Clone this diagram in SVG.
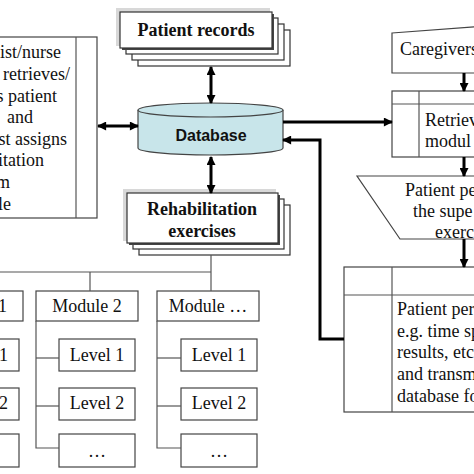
<svg xmlns="http://www.w3.org/2000/svg" width="474" height="474" viewBox="0 0 474 474">
<style>
.bx{fill:#fff;stroke:#444;stroke-width:1.2}
.tl{fill:none;stroke:#555;stroke-width:1.2}
.t{font-family:"Liberation Serif","Times New Roman",serif;font-size:18px;fill:#111}
.tb{font-family:"Liberation Serif","Times New Roman",serif;font-size:18px;font-weight:bold;fill:#111}
.thick{fill:none;stroke:#000;stroke-width:3}
.pg{fill:#fff;stroke:#333;stroke-width:1.2}
.sh{fill:#d8d8d8}
</style>
<defs>
<marker id="ah" viewBox="0 0 10 10" refX="9" refY="5" markerWidth="10" markerHeight="9" markerUnits="userSpaceOnUse" orient="auto-start-reverse">
<path d="M0,0 L10,5 L0,10 Z" fill="#000"/>
</marker>
</defs>
<rect width="474" height="474" fill="#fff"/>

<g id="left-box">
<rect class="bx" x="-10" y="37" width="107" height="181"/>
<line class="tl" x1="76" y1="37" x2="76" y2="218"/>
<text class="t" text-anchor="end" x="61" y="58">ist/nurse</text>
<text class="t" text-anchor="end" x="70" y="80">retrieves/</text>
<text class="t" text-anchor="end" x="57" y="101.5">s patient</text>
<text class="t" text-anchor="end" x="33" y="123">and</text>
<text class="t" text-anchor="end" x="67" y="144.5">st assigns</text>
<text class="t" text-anchor="end" x="44" y="166">itation</text>
<text class="t" text-anchor="end" x="10" y="188">m</text>
<text class="t" text-anchor="end" x="11" y="210">le</text>
</g>

<g id="patient-records">
<rect class="pg" x="138" y="30" width="152" height="36"/>
<rect class="pg" x="132" y="24" width="152" height="36"/>
<rect class="pg" x="126" y="18" width="152" height="36"/>
<rect class="sh" x="116" y="8" width="154" height="38"/>
<rect fill="#444" x="122" y="14" width="152" height="36"/>
<rect class="pg" x="120" y="12" width="152" height="36"/>
<text class="tb" text-anchor="middle" x="196" y="36">Patient records</text>
</g>

<g id="database">
<path d="M138,110 L138,148 A72.5,7 0 0 0 283,148 L283,110" fill="#c8e5ea" stroke="#444" stroke-width="1.2"/>
<ellipse cx="210.5" cy="110" rx="72.5" ry="7" fill="#c8e5ea" stroke="#444" stroke-width="1.2"/>
<text x="211" y="141" text-anchor="middle" font-family="Liberation Sans,Arial,sans-serif" font-size="16" font-weight="bold" fill="#111">Database</text>
</g>

<g id="rehab-exercises">
<rect class="pg" x="139" y="205" width="151" height="50"/>
<rect class="pg" x="133" y="199" width="151" height="50"/>
<rect class="sh" x="123" y="189" width="153" height="52"/>
<rect fill="#444" x="129" y="195" width="151" height="50"/>
<rect class="pg" x="127" y="193" width="151" height="50"/>
<text class="tb" text-anchor="middle" x="202" y="215">Rehabilitation</text>
<text class="tb" text-anchor="middle" x="202" y="237">exercises</text>
</g>

<g id="caregivers">
<polygon class="bx" points="392,33 480,26.5 480,73 392,73"/>
<text class="t" x="400" y="55">Caregivers</text>
</g>

<g id="retrieve-module">
<rect class="bx" x="392" y="91" width="200" height="66"/>
<line class="tl" x1="392" y1="104" x2="480" y2="104"/>
<line class="tl" x1="419" y1="91" x2="419" y2="157"/>
<text class="t" x="425" y="126">Retriev</text>
<text class="t" x="425" y="147">modul</text>
</g>

<g id="patient-performs">
<polygon class="bx" points="357,176 580,176 537,239 400,239"/>
<text class="t" x="405" y="195.5">Patient pe</text>
<text class="t" x="413" y="216.5">the supe</text>
<text class="t" x="435" y="237.5">exerc</text>
</g>

<g id="patient-performance">
<rect class="bx" x="344" y="267" width="200" height="145"/>
<line class="tl" x1="344" y1="295" x2="480" y2="295"/>
<line class="tl" x1="392" y1="267" x2="392" y2="412"/>
<text class="t" x="397" y="315">Patient per</text>
<text class="t" x="397" y="337">e.g. time sp</text>
<text class="t" x="397" y="358">results, etc</text>
<text class="t" x="397" y="380">and transm</text>
<text class="t" x="397" y="402">database fo</text>
</g>

<g id="module-1">
<rect class="bx" x="-79" y="291" width="102" height="30"/>
<text class="t" text-anchor="end" x="7" y="312">1</text>
<rect class="bx" x="-57" y="339" width="76" height="32"/>
<text class="t" text-anchor="end" x="8" y="361">1</text>
<rect class="bx" x="-57" y="388" width="76" height="32"/>
<text class="t" text-anchor="end" x="8" y="409">2</text>
<rect class="bx" x="-57" y="434" width="76" height="33"/>
</g>

<g id="module-2">
<rect class="bx" x="36" y="291" width="102" height="30"/>
<text class="t" text-anchor="middle" x="87" y="312">Module 2</text>
<rect class="bx" x="59" y="339" width="76" height="32"/>
<text class="t" text-anchor="middle" x="97" y="361">Level 1</text>
<rect class="bx" x="59" y="388" width="76" height="32"/>
<text class="t" text-anchor="middle" x="97" y="409">Level 2</text>
<rect class="bx" x="59" y="434" width="76" height="33"/>
<text class="t" text-anchor="middle" x="97" y="457" fill="#555">…</text>
</g>

<g id="module-n">
<rect class="bx" x="157" y="291" width="102" height="30"/>
<text class="t" text-anchor="middle" x="208" y="312">Module …</text>
<rect class="bx" x="181" y="339" width="76" height="32"/>
<text class="t" text-anchor="middle" x="219" y="361">Level 1</text>
<rect class="bx" x="181" y="388" width="76" height="32"/>
<text class="t" text-anchor="middle" x="219" y="409">Level 2</text>
<rect class="bx" x="181" y="434" width="76" height="33"/>
<text class="t" text-anchor="middle" x="219" y="457" fill="#555">…</text>
</g>

<g id="connectors">
<polyline class="tl" points="0,272 211,272"/>
<line class="tl" x1="211" y1="255" x2="211" y2="291"/>
<line class="tl" x1="90" y1="272" x2="90" y2="291"/>
<polyline class="tl" points="36,321 36,448 59,448"/>
<line class="tl" x1="36" y1="358" x2="59" y2="358"/>
<line class="tl" x1="36" y1="406" x2="59" y2="406"/>
<polyline class="tl" points="157,321 157,448 181,448"/>
<line class="tl" x1="157" y1="358" x2="181" y2="358"/>
<line class="tl" x1="157" y1="406" x2="181" y2="406"/>

<line class="thick" x1="211" y1="67" x2="211" y2="103" marker-start="url(#ah)" marker-end="url(#ah)"/>
<line class="thick" x1="211" y1="157" x2="211" y2="193" marker-start="url(#ah)" marker-end="url(#ah)"/>
<line class="thick" x1="98" y1="126" x2="138" y2="126" marker-start="url(#ah)" marker-end="url(#ah)"/>
<line class="thick" x1="283" y1="122" x2="392" y2="122" marker-end="url(#ah)"/>
<polyline class="thick" points="344,339 320,339 320,140 283,140" marker-end="url(#ah)"/>
<line class="thick" x1="464" y1="73" x2="464" y2="91" marker-end="url(#ah)"/>
<line class="thick" x1="464" y1="157" x2="464" y2="176" marker-end="url(#ah)"/>
<line class="thick" x1="464" y1="239" x2="464" y2="267" marker-end="url(#ah)"/>
</g>
</svg>
